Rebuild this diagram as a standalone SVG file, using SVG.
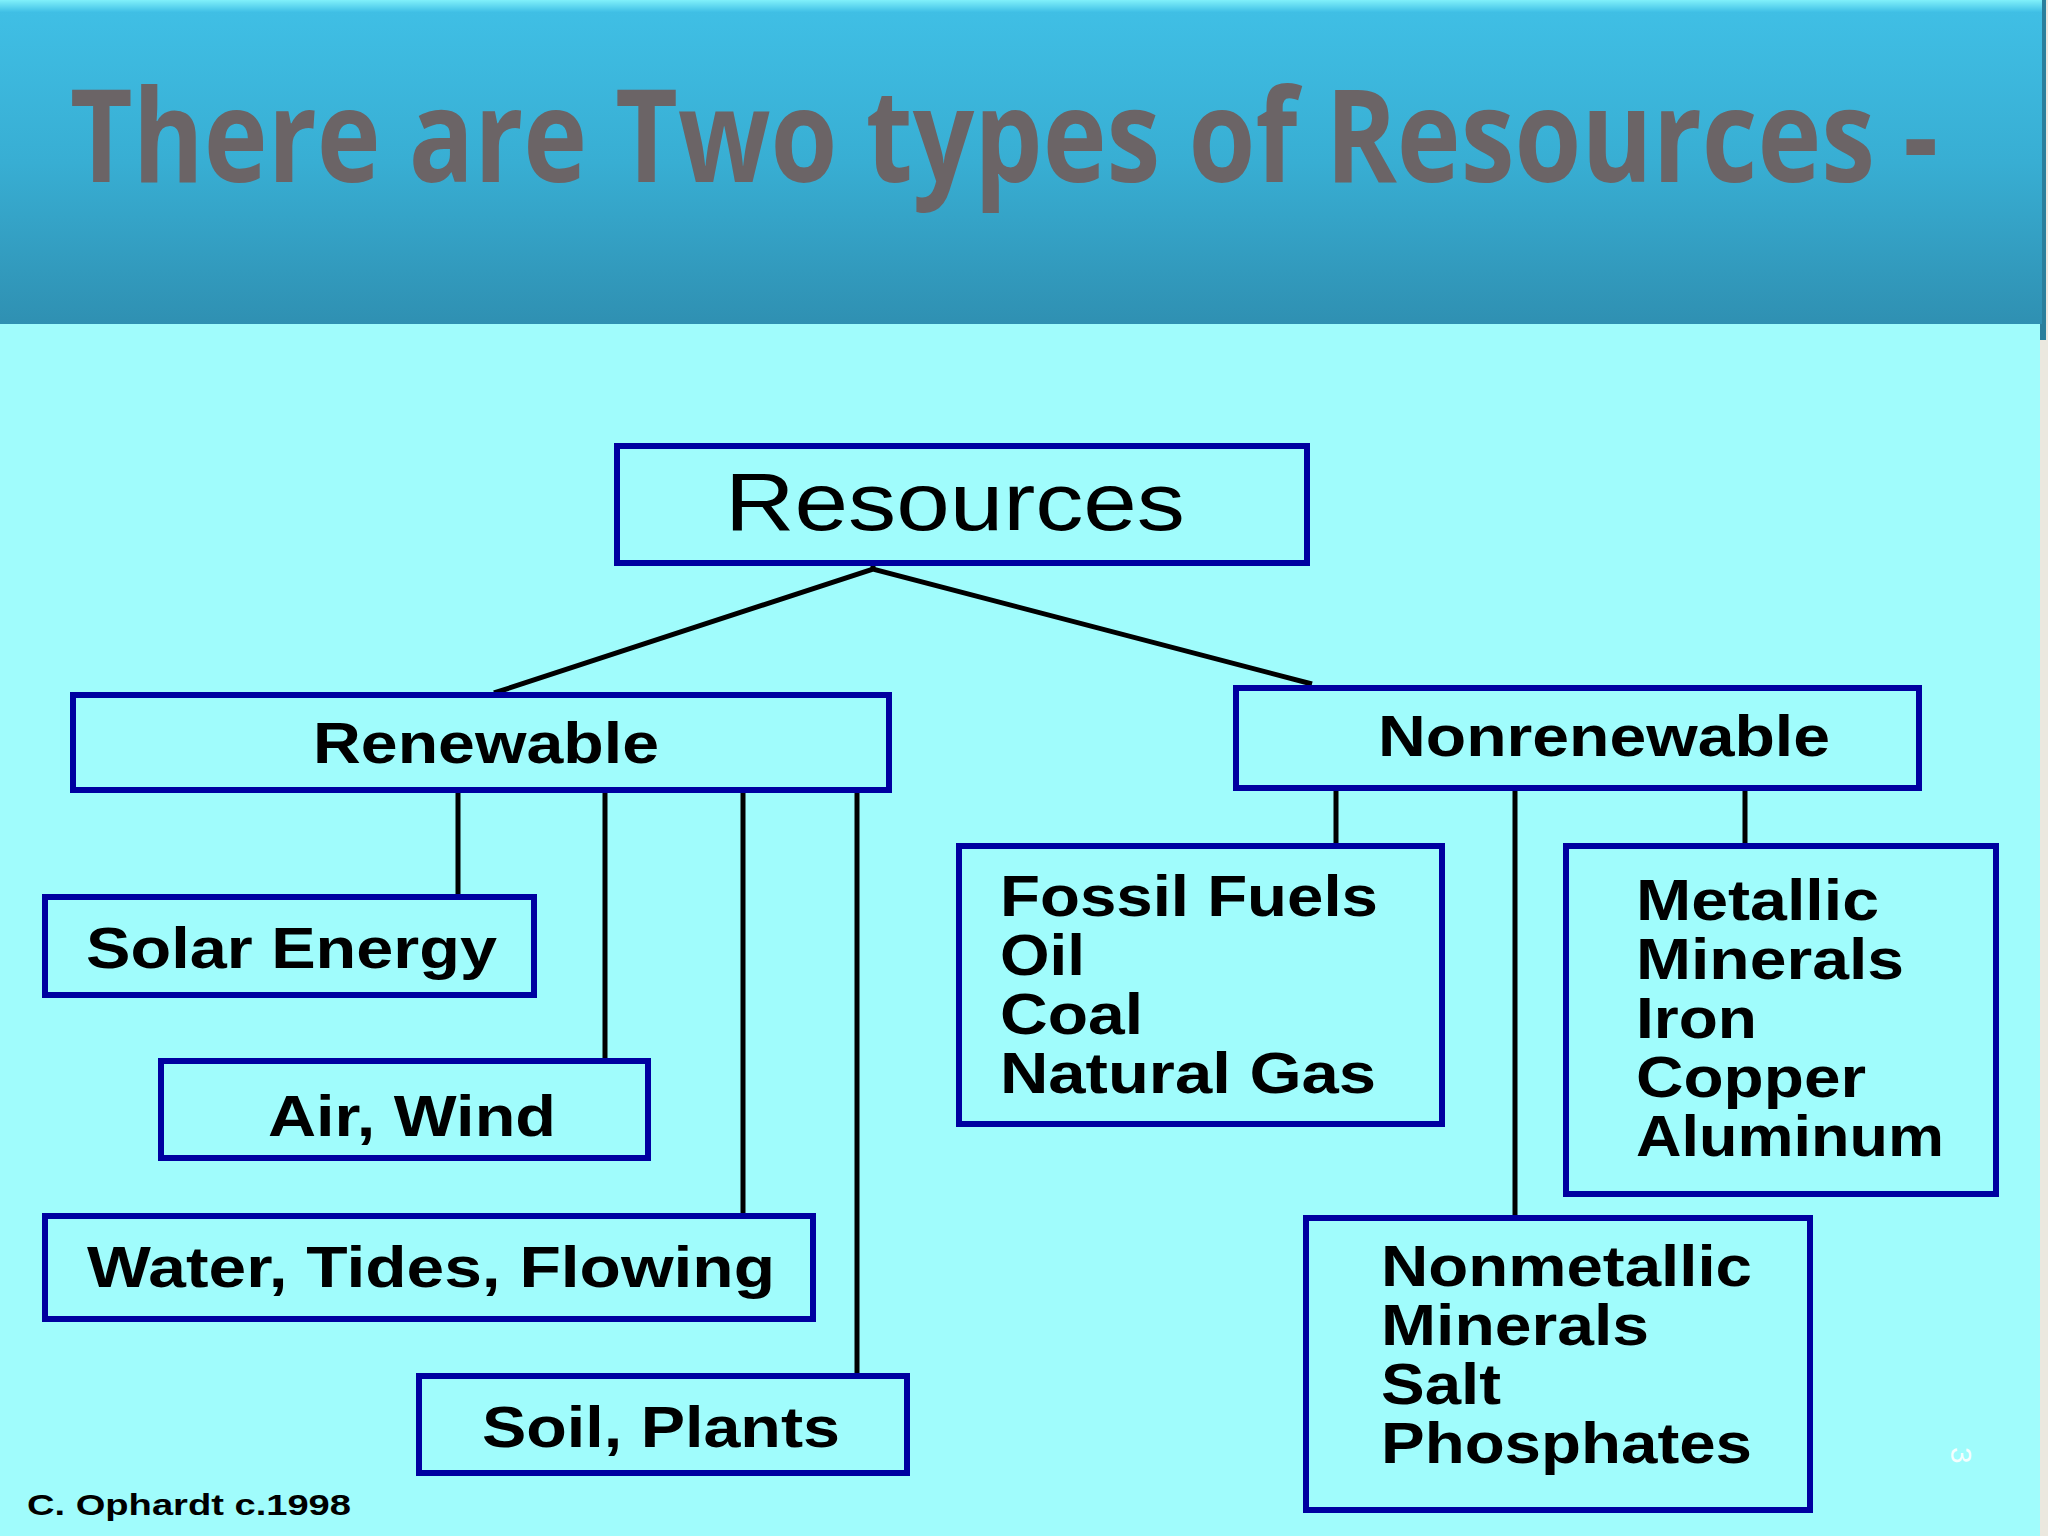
<svg xmlns="http://www.w3.org/2000/svg" width="2048" height="1536" viewBox="0 0 2048 1536">
  <defs>
    <linearGradient id="hdr" x1="0" y1="0" x2="0" y2="1">
      <stop offset="0" stop-color="#40c0e6"/>
      <stop offset="0.5" stop-color="#38aed3"/>
      <stop offset="1" stop-color="#2f90b2"/>
    </linearGradient>
    <linearGradient id="topband" x1="0" y1="0" x2="0" y2="1">
      <stop offset="0" stop-color="#80f0fa"/>
      <stop offset="1" stop-color="#40c0e6"/>
    </linearGradient>
  </defs>
  <style>
    .box { fill: none; stroke: #0000a0; stroke-width: 6; }
    .conn { fill: none; stroke: #000000; stroke-width: 5; stroke-linejoin: miter; }
    .lbl { font-family: "Liberation Sans", Arial, sans-serif; font-weight: bold; font-size: 58px; fill: #000000; }
    .title { font-family: "Open Sans", "DejaVu Sans", sans-serif; font-weight: bold; font-size: 112px; fill: #6b6466; }
  </style>

  <!-- background -->
  <rect x="0" y="0" width="2048" height="1536" fill="#ebe8df"/>
  <rect x="0" y="0" width="2040" height="1536" fill="#a0fcfc"/>

  <!-- header band -->
  <g id="header">
    <rect x="0" y="0" width="2046" height="340" fill="#2a7f9c"/>
    <rect x="0" y="0" width="2042" height="324" fill="url(#hdr)"/>
    <rect x="0" y="0" width="2042" height="12" fill="url(#topband)"/>
    <rect x="0" y="324" width="2040" height="16" fill="#a0fcfc"/>
    <text class="title" x="0" y="0" transform="translate(70,182) scale(1,1.16)" textLength="1868" lengthAdjust="spacingAndGlyphs">There are Two types of Resources -</text>
  </g>

  <!-- connectors -->
  <g id="connectors">
    <polyline class="conn" points="494,693 873,569 1312,684"/>
    <line class="conn" x1="873" y1="563" x2="873" y2="570"/>
    <line class="conn" x1="458" y1="792" x2="458" y2="896"/>
    <line class="conn" x1="605" y1="792" x2="605" y2="1059"/>
    <line class="conn" x1="743" y1="792" x2="743" y2="1213"/>
    <line class="conn" x1="857" y1="792" x2="857" y2="1374"/>
    <line class="conn" x1="1336" y1="789" x2="1336" y2="845"/>
    <line class="conn" x1="1515" y1="789" x2="1515" y2="1217"/>
    <line class="conn" x1="1745" y1="789" x2="1745" y2="845"/>
  </g>

  <g id="resources">
    <rect class="box" x="617" y="446" width="690" height="117"/>
    <text x="725" y="530" textLength="460" lengthAdjust="spacingAndGlyphs" style="font-family:'Liberation Sans',Arial,sans-serif;font-size:81px;fill:#000">Resources</text>
  </g>

  <g id="renewable">
    <rect class="box" x="73" y="695" width="816" height="95"/>
    <text class="lbl" x="313" y="763" textLength="346" lengthAdjust="spacingAndGlyphs">Renewable</text>
  </g>

  <g id="solar">
    <rect class="box" x="45" y="897" width="489" height="98"/>
    <text class="lbl" x="86" y="968" textLength="411" lengthAdjust="spacingAndGlyphs">Solar Energy</text>
  </g>

  <g id="airwind">
    <rect class="box" x="161" y="1061" width="487" height="97"/>
    <text class="lbl" x="268" y="1136" textLength="288" lengthAdjust="spacingAndGlyphs">Air, Wind</text>
  </g>

  <g id="water">
    <rect class="box" x="45" y="1216" width="768" height="103"/>
    <text class="lbl" x="87" y="1287" textLength="688" lengthAdjust="spacingAndGlyphs">Water, Tides, Flowing</text>
  </g>

  <g id="soil">
    <rect class="box" x="419" y="1376" width="488" height="97"/>
    <text class="lbl" x="482" y="1447" textLength="358" lengthAdjust="spacingAndGlyphs">Soil, Plants</text>
  </g>

  <g id="nonrenewable">
    <rect class="box" x="1236" y="688" width="683" height="100"/>
    <text class="lbl" x="1378" y="756" textLength="452" lengthAdjust="spacingAndGlyphs">Nonrenewable</text>
  </g>

  <g id="fossil">
    <rect class="box" x="959" y="846" width="483" height="278"/>
    <text class="lbl">
      <tspan x="1000" y="916" textLength="378" lengthAdjust="spacingAndGlyphs">Fossil Fuels</tspan>
      <tspan x="1000" y="975" textLength="85" lengthAdjust="spacingAndGlyphs">Oil</tspan>
      <tspan x="1000" y="1034" textLength="143" lengthAdjust="spacingAndGlyphs">Coal</tspan>
      <tspan x="1000" y="1093" textLength="376" lengthAdjust="spacingAndGlyphs">Natural Gas</tspan>
    </text>
  </g>

  <g id="metallic">
    <rect class="box" x="1566" y="846" width="430" height="348"/>
    <text class="lbl">
      <tspan x="1636" y="920" textLength="243" lengthAdjust="spacingAndGlyphs">Metallic</tspan>
      <tspan x="1636" y="979" textLength="268" lengthAdjust="spacingAndGlyphs">Minerals</tspan>
      <tspan x="1636" y="1038" textLength="121" lengthAdjust="spacingAndGlyphs">Iron</tspan>
      <tspan x="1636" y="1097" textLength="230" lengthAdjust="spacingAndGlyphs">Copper</tspan>
      <tspan x="1636" y="1156" textLength="308" lengthAdjust="spacingAndGlyphs">Aluminum</tspan>
    </text>
  </g>

  <g id="nonmetallic">
    <rect class="box" x="1306" y="1218" width="504" height="292"/>
    <text class="lbl" style="font-size:57px">
      <tspan x="1381" y="1286" textLength="371" lengthAdjust="spacingAndGlyphs">Nonmetallic</tspan>
      <tspan x="1381" y="1345" textLength="268" lengthAdjust="spacingAndGlyphs">Minerals</tspan>
      <tspan x="1381" y="1404" textLength="120" lengthAdjust="spacingAndGlyphs">Salt</tspan>
      <tspan x="1381" y="1463" textLength="371" lengthAdjust="spacingAndGlyphs">Phosphates</tspan>
    </text>
  </g>

  <g id="credit">
    <text x="27" y="1515" textLength="324" lengthAdjust="spacingAndGlyphs" style="font-family:'Liberation Sans',Arial,sans-serif;font-weight:bold;font-size:30px;fill:#000">C. Ophardt c.1998</text>
  </g>

  <g id="pagenum">
    <text x="0" y="0" transform="translate(1951,1447) rotate(90)" style="font-family:'Liberation Sans',Arial,sans-serif;font-size:30px;fill:#ffffff;opacity:0.9">3</text>
  </g>
</svg>
